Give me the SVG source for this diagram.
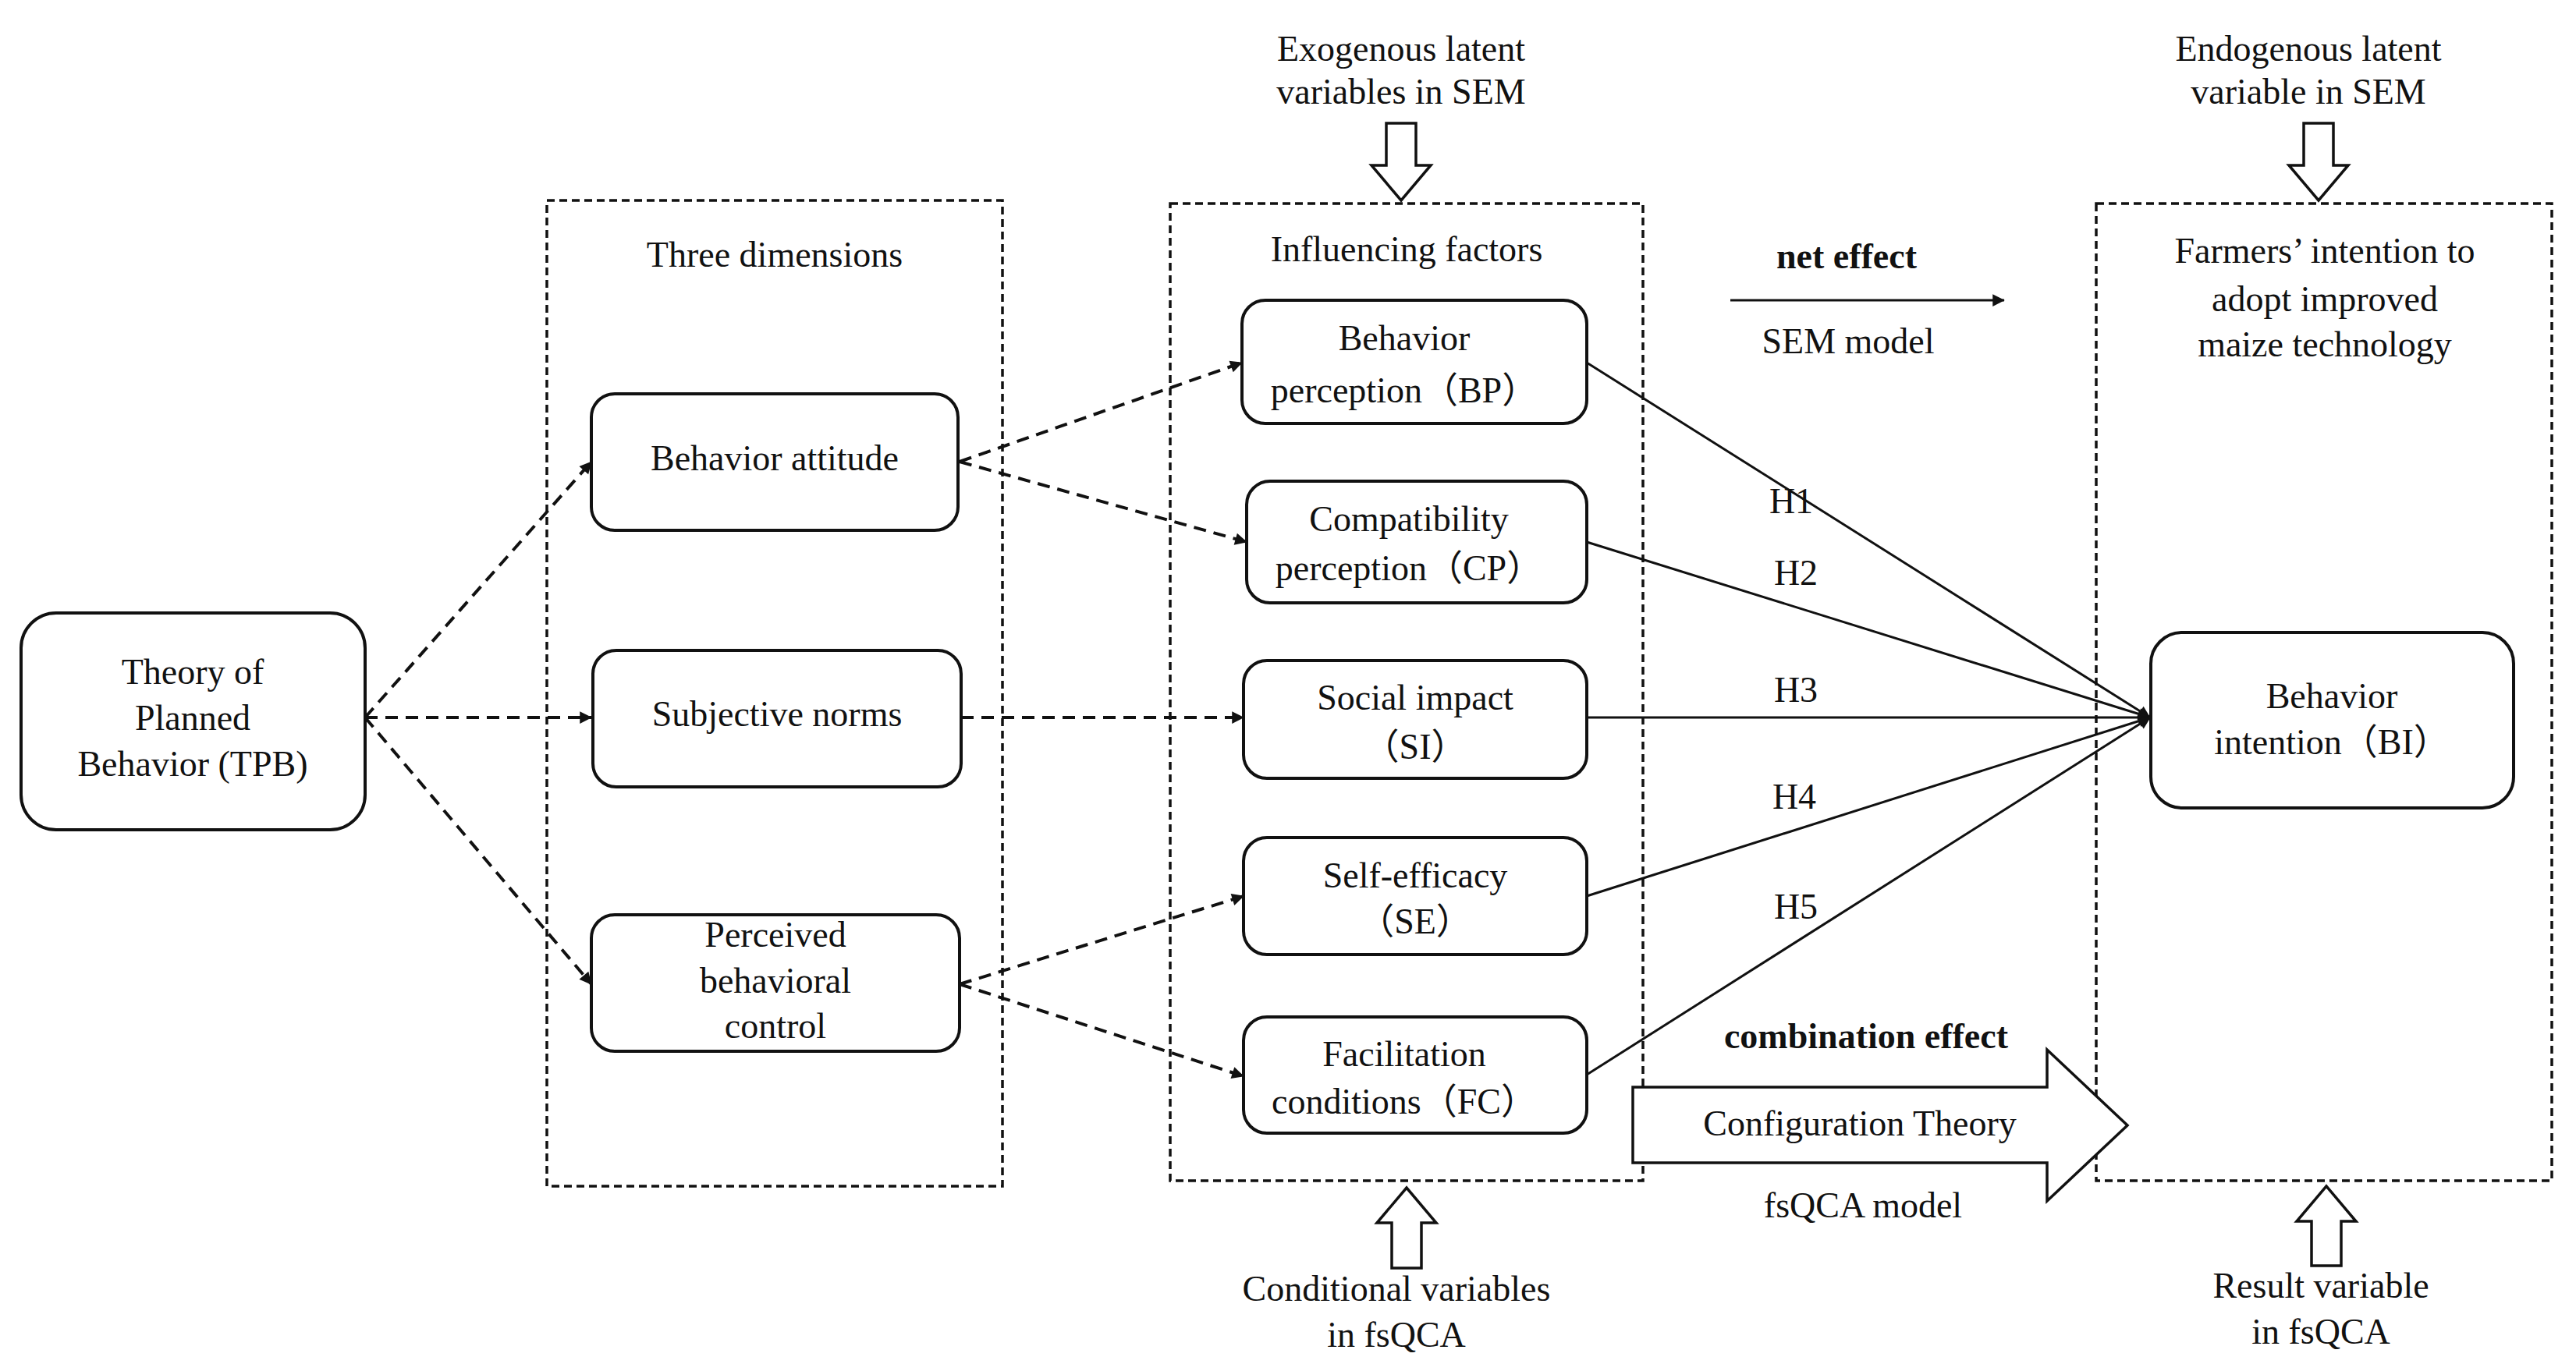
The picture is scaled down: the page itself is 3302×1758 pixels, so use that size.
<svg xmlns="http://www.w3.org/2000/svg" width="3302" height="1758" viewBox="0 0 3302 1758">
<style>
text{font-family:"Liberation Serif","Noto Sans CJK SC",serif;font-size:46px;fill:#111;text-anchor:middle;dominant-baseline:middle}
.b{font-weight:bold}
.node{fill:#fff;stroke:#111;stroke-width:4}
.grp{fill:none;stroke:#111;stroke-width:3.5;stroke-dasharray:10 6}
.dl{fill:none;stroke:#111;stroke-width:4;stroke-dasharray:16 10}
.sl{fill:none;stroke:#111;stroke-width:3}
.ha{fill:#fff;stroke:#111;stroke-width:3.5}
</style>
<defs>
<marker id="ah" viewBox="0 0 10 10" refX="9" refY="5" markerWidth="6" markerHeight="6" markerUnits="userSpaceOnUse" orient="auto" style="overflow:visible">
<path d="M0,0 L10,5 L0,10 z" fill="#111" transform="scale(2.6) translate(-6,-3)"/>
</marker>
</defs>
<rect width="3302" height="1758" fill="#fff"/>

<g id="containers">
<rect class="grp" x="701" y="257" width="584" height="1264"/>
<text x="993" y="331">Three dimensions</text>
<rect class="grp" x="1500" y="261" width="606" height="1253"/>
<text x="1803" y="324">Influencing factors</text>
<rect class="grp" x="2687" y="261" width="584" height="1253"/>
<text x="2980" y="326">Farmers’ intention to</text>
<text x="2980" y="388">adopt improved</text>
<text x="2980" y="446">maize technology</text>
</g>

<g id="connectors">
<line class="dl" x1="468" y1="920" x2="758" y2="592" marker-end="url(#ah)"/>
<line class="dl" x1="468" y1="920" x2="758" y2="920" marker-end="url(#ah)"/>
<line class="dl" x1="468" y1="920" x2="758" y2="1262" marker-end="url(#ah)"/>
<line class="dl" x1="1230" y1="592" x2="1592" y2="465" marker-end="url(#ah)"/>
<line class="dl" x1="1230" y1="592" x2="1598" y2="695" marker-end="url(#ah)"/>
<line class="dl" x1="1232" y1="920" x2="1594" y2="920" marker-end="url(#ah)"/>
<line class="dl" x1="1230" y1="1262" x2="1594" y2="1149" marker-end="url(#ah)"/>
<line class="dl" x1="1230" y1="1262" x2="1594" y2="1380" marker-end="url(#ah)"/>
<line class="sl" x1="2034" y1="465" x2="2756" y2="920" marker-end="url(#ah)"/>
<line class="sl" x1="2034" y1="695" x2="2756" y2="920" marker-end="url(#ah)"/>
<line class="sl" x1="2034" y1="920" x2="2756" y2="920" marker-end="url(#ah)"/>
<line class="sl" x1="2034" y1="1149" x2="2756" y2="920" marker-end="url(#ah)"/>
<line class="sl" x1="2034" y1="1378" x2="2756" y2="920" marker-end="url(#ah)"/>
<text x="2296" y="647">H1</text>
<text x="2302" y="739">H2</text>
<text x="2302" y="889">H3</text>
<text x="2300" y="1026">H4</text>
<text x="2302" y="1167">H5</text>
<line class="sl" x1="2218" y1="385" x2="2569" y2="385" marker-end="url(#ah)"/>
<text class="b" x="2367" y="333">net effect</text>
<text x="2369" y="442">SEM model</text>
<path class="ha" d="M2093,1394 H2624 V1346 L2727,1443 L2624,1540 V1491 H2093 Z"/>
<text x="2384" y="1445">Configuration Theory</text>
<text class="b" x="2392" y="1333">combination effect</text>
<text x="2388" y="1550">fsQCA model</text>
<path class="ha" d="M1777,158 H1815 V212 H1834 L1796,257 L1758,212 H1777 Z"/>
<path class="ha" d="M2953,158 H2991 V212 H3010 L2972,257 L2934,212 H2953 Z"/>
<path class="ha" d="M1784,1626 H1822 V1568 H1841 L1803,1523 L1765,1568 H1784 Z"/>
<path class="ha" d="M2963,1623 H3001 V1566 H3020 L2982,1521 L2944,1566 H2963 Z"/>
<text x="1796" y="67">Exogenous latent</text>
<text x="1796" y="122">variables in SEM</text>
<text x="2959" y="67">Endogenous latent</text>
<text x="2959" y="122">variable in SEM</text>
<text x="1790" y="1657">Conditional variables</text>
<text x="1790" y="1716">in fsQCA</text>
<text x="2975" y="1653">Result variable</text>
<text x="2975" y="1712">in fsQCA</text>
</g>

<g id="tpb"><rect class="node" x="27" y="786" width="441" height="278" rx="45"/>
<text x="247" y="866">Theory of</text><text x="247" y="925">Planned</text><text x="247" y="984">Behavior (TPB)</text></g>
<g id="ba"><rect class="node" x="758" y="505" width="470" height="175" rx="30"/><text x="993" y="592">Behavior attitude</text></g>
<g id="sn"><rect class="node" x="760" y="834" width="472" height="175" rx="30"/><text x="996" y="920">Subjective norms</text></g>
<g id="pbc"><rect class="node" x="758" y="1173" width="472" height="175" rx="30"/>
<text x="994" y="1203">Perceived</text><text x="994" y="1262">behavioral</text><text x="994" y="1320">control</text></g>
<g id="bp"><rect class="node" x="1592" y="385" width="442" height="158" rx="30"/><text x="1800" y="438">Behavior</text><text x="1800" y="505">perception（BP）</text></g>
<g id="cp"><rect class="node" x="1598" y="617" width="436" height="156" rx="30"/><text x="1806" y="670">Compatibility</text><text x="1806" y="733">perception（CP）</text></g>
<g id="si"><rect class="node" x="1594" y="847" width="440" height="151" rx="30"/><text x="1814" y="899">Social impact</text><text x="1814" y="962">（SI）</text></g>
<g id="se"><rect class="node" x="1594" y="1074" width="440" height="150" rx="30"/><text x="1814" y="1127">Self-efficacy</text><text x="1814" y="1186">（SE）</text></g>
<g id="fc"><rect class="node" x="1594" y="1304" width="440" height="149" rx="30"/><text x="1800" y="1356">Facilitation</text><text x="1800" y="1417">conditions（FC）</text></g>
<g id="bi"><rect class="node" x="2757" y="811" width="465" height="225" rx="40"/><text x="2989" y="897">Behavior</text><text x="2989" y="956">intention（BI）</text></g>
</svg>
